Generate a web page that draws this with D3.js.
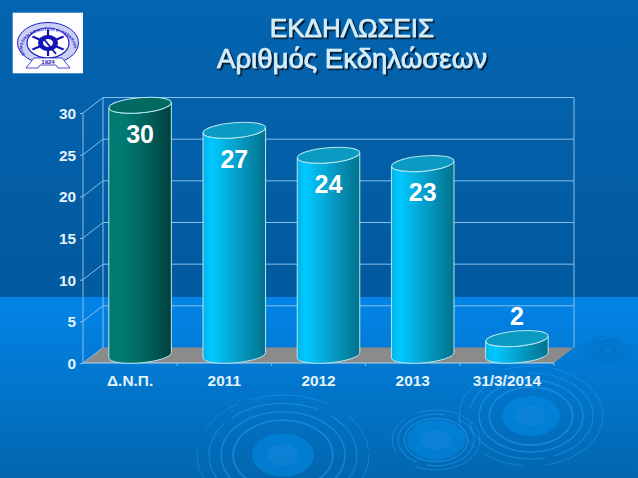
<!DOCTYPE html>
<html><head><meta charset="utf-8">
<script src="https://cdn.jsdelivr.net/npm/d3@7/dist/d3.min.js"></script>
<style>html,body{margin:0;padding:0;background:#0462ac}svg{display:block}text{font-family:"Liberation Sans",Arial,sans-serif}</style>
</head><body><svg id="c" width="638" height="478" viewBox="0 0 638 478"></svg>
<script>
const categories = ["Δ.Ν.Π.", "2011", "2012", "2013", "31/3/2014"];
const values = [30, 27, 24, 23, 2];
const yTicks = [0, 5, 10, 15, 20, 25, 30];
const titleLines = ["ΕΚΔΗΛΩΣΕΙΣ", "Αριθμός Εκδηλώσεων"];
const titleSizes = [26, 27.6];
// ripple decoration: cx, cy, rx, ry, disc share, disc colour
const ripples = [[531,416,72,50,0.4,"#0a8ce6"],[436,440,44,30,0.66,"#0a8ce6"],[283,455,86,60,0.36,"#0a8ce6"],[608,349,22,13,0.45,"#0470c0"]];

const W = 638, H = 478, FX0 = 83, FX1 = 554, FY0 = 363, FY30 = 113, DX = 20, DY = -15.5;
const svg = d3.select("#c");
const defs = svg.append("defs");
function lin(id, stops, horiz){
  const g = defs.append("linearGradient").attr("id", id).attr("x1",0).attr("y1",0).attr("x2",horiz?1:0).attr("y2",horiz?0:1);
  stops.forEach(s => g.append("stop").attr("offset", s[0]).attr("stop-color", s[1]));
}
lin("bgTop", [[0,"#0464b0"],[1,"#025a9f"]]);
lin("bgBot", [[0,"#0284e8"],[0.55,"#0274c8"],[1,"#0266ae"]]);
lin("cyl", [[0,"#00b4ea"],[0.14,"#00c8ff"],[0.45,"#05a8d6"],[1,"#02728c"]], true);
lin("cylD", [[0,"#007a70"],[0.2,"#007c72"],[0.6,"#00625c"],[1,"#013f3e"]], true);
const sh = defs.append("filter").attr("id","sh").attr("x","-5%").attr("y","-20%").attr("width","110%").attr("height","140%");
sh.append("feDropShadow").attr("dx",1.8).attr("dy",1.8).attr("stdDeviation",0.4).attr("flood-color","#011a33").attr("flood-opacity",1);
const soft = defs.append("filter").attr("id","soft");
soft.append("feGaussianBlur").attr("stdDeviation",0.6);

svg.append("rect").attr("width",W).attr("height",297).attr("fill","url(#bgTop)");
svg.append("rect").attr("y",297).attr("width",W).attr("height",H-297).attr("fill","url(#bgBot)");

// ripples
const rp = svg.append("g").attr("filter","url(#soft)").attr("fill","none");
ripples.forEach(([cx,cy,rx,ry,share,col]) => {
  rp.append("ellipse").attr("cx",cx).attr("cy",cy).attr("rx",rx*share).attr("ry",ry*share).attr("fill",col).attr("fill-opacity",0.55);
  rp.append("ellipse").attr("cx",cx).attr("cy",cy).attr("rx",rx*share*0.5).attr("ry",ry*share*0.5).attr("fill","#1a98ea").attr("fill-opacity",0.2);
  [[0.58,1.8,"0"],[0.72,1.5,"0"],[0.86,1.2,"60 10 90 14"],[1,1,"80 24 40 12"]].forEach(([k,w,dash]) => {
    if (k <= share) return;
    rp.append("ellipse").attr("cx",cx).attr("cy",cy).attr("rx",rx*k).attr("ry",ry*k)
      .attr("stroke",col==="#0470c0"?"#0470c0":"#1a96ec").attr("stroke-opacity",0.6).attr("stroke-width",w).attr("stroke-dasharray",dash);
  });
});

// scales
const x = d3.scaleBand().domain(categories).range([FX0,FX1]);
const y = d3.scaleLinear().domain([0,30]).range([FY0,FY30]);
const bw = x.bandwidth()*0.664;
const gridCol = "#86bfe8";

// floor
svg.append("path").attr("fill","#8b8b8b")
  .attr("d", d3.line()([[FX0,FY0],[FX0+DX,FY0+DY],[FX1+DX,FY0+DY],[FX1,FY0]]));

// walls and grid
const gr = svg.append("g").attr("fill","none").attr("stroke",gridCol).attr("stroke-width",1);
gr.selectAll(".h").data(yTicks.slice(1)).join("line")
  .attr("x1",FX0+DX).attr("x2",FX1+DX).attr("y1",d=>y(d)+DY).attr("y2",d=>y(d)+DY);
gr.selectAll(".d").data(yTicks).join("line")
  .attr("x1",FX0).attr("x2",FX0+DX).attr("y1",d=>y(d)).attr("y2",d=>y(d)+DY);
gr.append("line").attr("x1",FX0+DX).attr("x2",FX0+DX).attr("y1",y(30)+DY).attr("y2",y(0)+DY);
gr.append("line").attr("x1",FX1+DX).attr("x2",FX1+DX).attr("y1",y(30)+DY).attr("y2",y(0)+DY);

// axes
const ax = svg.append("g").attr("transform",`translate(${FX0},0)`)
  .call(d3.axisLeft(y).tickValues(yTicks).tickSize(3).tickPadding(4));
ax.select(".domain").attr("stroke",gridCol).attr("d",`M0,${y(30)}V${y(0)}`);
ax.selectAll("line").attr("stroke",gridCol);
ax.selectAll("text").attr("fill","#e4f3fc").attr("font-size",15.4).attr("font-weight","bold").attr("font-family",'"Liberation Sans"').attr("dy","0.36em");

const bx = svg.append("g").attr("transform",`translate(0,${FY0})`)
  .call(d3.axisBottom(x).tickSize(0).tickPadding(12));
bx.select(".domain").attr("stroke","#b4d8ef").attr("d",`M${FX0},0H${FX1}`);
bx.selectAll("text").attr("fill","#e4f3fc").attr("font-size",15.4).attr("font-weight","bold").attr("font-family",'"Liberation Sans"');
svg.append("g").attr("stroke",gridCol).selectAll("line").data(categories).join("line")
  .attr("x1",d=>x(d)+x.bandwidth()).attr("x2",d=>x(d)+x.bandwidth()).attr("y1",FY0).attr("y2",FY0+3);

// cylinders
const ry = 7.6, tilt = -5, dt = 2.6;
const cyl = svg.append("g").selectAll("g").data(values.map((v,i)=>({v,c:categories[i],i}))).join("g");
const cx = d => x(d.c)+x.bandwidth()/2+DX/2;
const cyTop = d => y(d.v)+DY/2;
const cyBot = () => y(0)+DY/2;
cyl.append("path")
  .attr("fill",d=>d.i===0?"url(#cylD)":"url(#cyl)")
  .attr("stroke","#b6e6f2").attr("stroke-width",1)
  .attr("d",d=>{
    const l=cx(d)-bw/2, r=cx(d)+bw/2, t=cyTop(d), b=cyBot();
    return `M${l},${t+dt}L${l},${b+dt}A${bw/2},${ry} ${tilt} 0 0 ${r},${b-dt}L${r},${t-dt}A${bw/2},${ry} ${tilt} 0 1 ${l},${t+dt}Z`;
  });
cyl.append("ellipse")
  .attr("cx",cx).attr("cy",cyTop).attr("rx",bw/2).attr("ry",ry)
  .attr("transform",d=>`rotate(${tilt} ${cx(d)} ${cyTop(d)})`)
  .attr("fill",d=>d.i===0?"#036a62":"#0a9ac2")
  .attr("stroke","#b6e6f2").attr("stroke-width",1);
cyl.append("text")
  .attr("x",cx)
  .attr("y",d=> d.v<5 ? cyTop(d)-14 : cyTop(d)+37.5)
  .attr("text-anchor","middle").attr("font-size",25).attr("font-weight","bold").attr("fill","#ffffff")
  .text(d=>d.v);

// title
svg.append("g").attr("filter","url(#sh)").selectAll("text").data(titleLines).join("text")
  .attr("x",352).attr("y",(d,i)=>37+i*31).attr("text-anchor","middle")
  .attr("font-size",(d,i)=>titleSizes[i]).attr("font-weight","normal")
  .attr("fill","#d3ecfa").attr("stroke","#d3ecfa").attr("stroke-width",0.7).text(d=>d);

// logo
const lg = svg.append("g");
const blue = "#2020c8", deep = "#1414b4", LX = 48, LY = 43;
lg.append("rect").attr("x",12.7).attr("y",12.7).attr("width",70.3).attr("height",60.6).attr("fill","#fdfdff");
lg.append("ellipse").attr("cx",LX).attr("cy",LY).attr("rx",30.5).attr("ry",20.5).attr("fill","#ccd0f4").attr("stroke",blue).attr("stroke-width",1);
lg.append("ellipse").attr("cx",LX).attr("cy",LY).attr("rx",21).attr("ry",15).attr("fill","#fff").attr("stroke",blue).attr("stroke-width",1.2);
defs.append("path").attr("id","arc").attr("d","M25,55 A25.5,17 0 1 1 71,55");
lg.append("text").attr("font-size",4.2).attr("font-weight","bold").attr("fill",blue).append("textPath").attr("href","#arc").text("ΔΗΜΟΤΙΚΗ ΚΟΙΝΟΤΗΤΑ Κ. ΓΕΡΑΚΙΝΗ");
[30,90,150,210,270,330].forEach(a=>{
  lg.append("line").attr("x1",LX).attr("y1",LY).attr("x2",LX+18*Math.cos(a*Math.PI/180)).attr("y2",LY+13*Math.sin(a*Math.PI/180)).attr("stroke",deep).attr("stroke-width",2.2);
});
lg.append("ellipse").attr("cx",LX).attr("cy",LY).attr("rx",10).attr("ry",8).attr("fill",deep);
lg.append("ellipse").attr("cx",LX).attr("cy",LY).attr("rx",5).attr("ry",4).attr("fill","#fff");
lg.append("line").attr("x1",LX-5).attr("y1",LY-5).attr("x2",LX+8).attr("y2",LY+11).attr("stroke",deep).attr("stroke-width",1.8);
lg.append("path").attr("fill","#fff").attr("stroke",blue).attr("stroke-width",0.8).attr("d","M34,58H62L70,68H58L56,65H40L38,68H26Z");
lg.append("text").attr("x",LX).attr("y",64).attr("text-anchor","middle").attr("font-size",6).attr("font-weight","bold").attr("fill",deep).text("1924");
</script></body></html>
